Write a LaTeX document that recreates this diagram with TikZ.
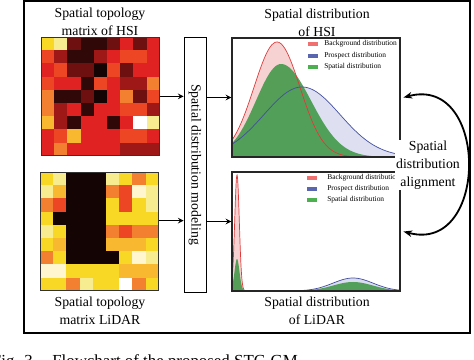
\documentclass[tikz,border=0pt]{standalone}
\usepackage{fontspec}
\setmainfont{Liberation Serif}
\usepackage{xcolor}
\usetikzlibrary{
    arrows.meta,
    positioning
}
% heat map colours
\definecolor{hm-k}{HTML}{140404}
\definecolor{hm-v}{HTML}{300808}
\definecolor{hm-d}{HTML}{6E1010}
\definecolor{hm-m}{HTML}{9E1818}
\definecolor{hm-r}{HTML}{E02222}
\definecolor{hm-o}{HTML}{EC4624}
\definecolor{hm-a}{HTML}{F28030}
\definecolor{hm-g}{HTML}{F8B830}
\definecolor{hm-y}{HTML}{F8D825}
\definecolor{hm-l}{HTML}{F8EC90}
\definecolor{hm-c}{HTML}{FFF6D0}
\definecolor{hm-w}{HTML}{FFFFFF}
% distribution colours
\definecolor{bgline}{HTML}{E03A3A}
\definecolor{bgfill}{HTML}{F7D2D2}
\definecolor{fgline}{HTML}{44509E}
\definecolor{fgfill}{HTML}{DADDF0}
\definecolor{spfill}{HTML}{43994A}
\definecolor{bgpatch}{HTML}{F07070}
\definecolor{fgpatch}{HTML}{5A66B0}
\definecolor{sppatch}{HTML}{4CAF50}
\tikzstyle{matbox} = [
    rectangle,
    draw=black!80,
    line width=0.6pt,
    minimum width=2.97cm,
    minimum height=2.97cm,
    inner sep=0pt
]
\tikzstyle{distbox} = [
    rectangle,
    draw=black!85,
    line width=0.9pt,
    minimum width=4.2cm,
    minimum height=2.975cm,
    inner sep=0pt
]
\tikzstyle{modelbox} = [
    rectangle, draw,
    line width=0.6pt,
    minimum width=6.375cm,
    minimum height=0.5cm,
    rotate=-90
]
\tikzstyle{lbl} = [
    align=center,
    inner sep=1pt
]
\tikzstyle{legtxt} = [
    anchor=west,
    inner sep=0pt,
    font=\fontsize{5.3}{6}\selectfont
]
\tikzstyle{arrow} = [
    thick,
    ->,
    >=stealth
]
\begin{document}
\begin{tikzpicture}[
        x=0.025cm, y=-0.025cm,
        font=\fontsize{9.8}{12.6}\selectfont
    ]
    \useasboundingbox (0,0) rectangle (474,360);
    \draw[line width=1.3pt] (24,1) rectangle (470,333);

    % topology matrix of HSI
    \foreach \row [count=\r from 0] in {
        {y,l,d,v,v,d,r,d,r},
        {o,m,v,v,m,r,o,o,r},
        {r,o,d,d,k,o,d,r,r},
        {o,r,r,v,o,r,m,m,a},
        {a,v,v,d,k,r,a,d,o},
        {a,m,r,v,r,r,o,o,m},
        {g,m,v,r,r,v,r,w,l},
        {r,o,g,r,r,r,o,o,r},
        {r,a,r,r,r,r,m,m,m}}
        \foreach \c [count=\k from 0] in \row
            \fill[hm-\c] ({41+13.2*\k},{37+13.2*\r}) rectangle +(13.3,13.3);
    \node[matbox] (hsimat) at (100.4,96.4) {};

    % topology matrix of LiDAR
    \foreach \row [count=\r from 0] in {
        {y,l,k,k,k,l,y,a,y},
        {l,g,k,k,k,a,o,c,l},
        {a,o,k,k,k,y,o,y,l},
        {y,k,k,k,k,y,y,y,y},
        {l,y,k,k,k,a,o,a,a},
        {y,g,k,k,k,g,g,g,y},
        {a,y,k,k,k,k,y,c,l},
        {c,c,y,y,y,y,g,g,g},
        {y,y,a,l,y,y,w,a,y}}
        \foreach \c [count=\k from 0] in \row
            \fill[hm-\c] ({40+13.2*\k},{172+13.2*\r}) rectangle +(13.3,13.3);
    \node[matbox] (lidarmat) at (99.4,231.4) {};

    \node[lbl] (hsimattitle) at (100,22) {Spatial topology\\matrix of HSI};
    \node[lbl] (lidarmattitle) at (100,311) {Spatial topology\\matrix LiDAR};

    \node[modelbox] (model) at (195,164.5) {Spatial distribution modeling};

    % distributions of HSI
    \fill[bgfill] plot[domain=232:400, samples=90]
        (\x,{157-115*exp(-0.5*pow((\x-277)/23,2))}) -- (400,157) -- (232,157) -- cycle;
    \fill[fgfill, opacity=0.9] plot[domain=232:400, samples=90]
        (\x,{157-70*exp(-0.5*pow((\x-302)/38,2))}) -- (400,157) -- (232,157) -- cycle;
    \fill[spfill, opacity=0.9] plot[domain=232:400, samples=90]
        (\x,{157-93*exp(-0.5*pow((\x-281)/(\x<281?25:30),2))}) -- (400,157) -- (232,157) -- cycle;
    \draw[bgline, line width=0.5pt] plot[domain=232:400, samples=90]
        (\x,{157-115*exp(-0.5*pow((\x-277)/23,2))});
    \draw[fgline, line width=0.5pt] plot[domain=232:400, samples=90]
        (\x,{157-70*exp(-0.5*pow((\x-302)/38,2))});
    \foreach \y/\cl/\txt in {44/bgpatch/Background distribution,
                             56/fgpatch/Prospect distribution,
                             67/sppatch/Spatial distribution} {
        \fill[\cl] (308,\y-2) rectangle (318,\y+2);
        \node[legtxt] (hsileg\y) at (324,\y) {\txt};
    }
    \node[distbox] (hsidist) at (316,97.5) {};

    % distributions of LiDAR
    \fill[bgfill] plot[domain=232:252, samples=60]
        (\x,{291-116*exp(-0.5*pow((\x-237)/2.3,2))}) -- (252,291) -- (232,291) -- cycle;
    \fill[spfill, opacity=0.9] plot[domain=232:252, samples=60]
        (\x,{291-32*exp(-0.5*pow((\x-237)/2.5,2))}) -- (252,291) -- (232,291) -- cycle;
    \draw[bgline, line width=0.5pt] plot[domain=232:252, samples=60]
        (\x,{291-116*exp(-0.5*pow((\x-237)/2.3,2))});
    \fill[fgfill] plot[domain=290:400, samples=60]
        (\x,{291-13*exp(-0.5*pow((\x-353)/20,2))}) -- (400,291) -- (290,291) -- cycle;
    \fill[spfill, opacity=0.9] plot[domain=290:400, samples=60]
        (\x,{291-9*exp(-0.5*pow((\x-353)/20,2))}) -- (400,291) -- (290,291) -- cycle;
    \draw[fgline, line width=0.5pt] plot[domain=290:400, samples=60]
        (\x,{291-13*exp(-0.5*pow((\x-353)/20,2))});
    \foreach \y/\cl/\txt in {178/bgpatch/Background distribution,
                             189/fgpatch/Prospect distribution,
                             200/sppatch/Spatial distribution} {
        \fill[\cl] (307,\y-2) rectangle (317,\y+2);
        \node[legtxt] (lidarleg\y) at (327,\y) {\txt};
    }
    \node[distbox] (lidardist) at (316,231.5) {};

    \node[lbl] (hsidisttitle) at (317,22.5) {Spatial distribution\\of HSI};
    \node[lbl] (lidardisttitle) at (317,310.5) {Spatial distribution\\of LiDAR};

    % connectors
    \coordinate (lidarout) at ([yshift=0.27cm]lidarmat.east);
    \coordinate (lidarin) at ([yshift=0.25cm]lidardist.west);
    \draw[arrow] (hsimat.east) -- (hsimat.east -| model.south);
    \draw[arrow] (lidarout) -- (lidarout -| model.south);
    \draw[arrow] (hsidist.west -| model.north) -- (hsidist.west);
    \draw[arrow] (lidarin -| model.north) -- (lidarin);

    \draw[line width=1.3pt, {Stealth[length=2.2mm]}-{Stealth[length=2.2mm]}]
        ([xshift=2pt]hsidist.east) to[out=15, in=-15, looseness=1.7] ([xshift=2pt]lidardist.east);
    \node[lbl, fill=white] (alignlbl) at (428,165) {Spatial\\distribution\\alignment};

    % caption, cut at the lower edge
    \node[anchor=base east, inner sep=0pt, font=\fontsize{12}{14}\selectfont] (capnum) at (33,366) {Fig. 3};
    \node[anchor=base west, inner sep=0pt, font=\fontsize{12}{14}\selectfont] (captxt) at (52,366) {Flowchart of the proposed STC-GM};
\end{tikzpicture}
\end{document}
